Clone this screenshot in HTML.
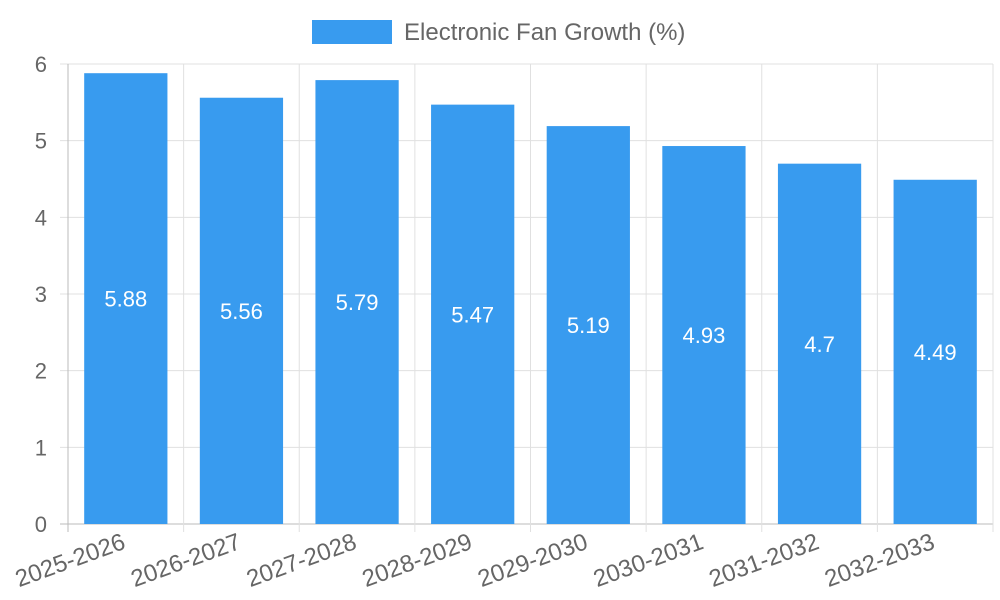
<!DOCTYPE html>
<html><head><meta charset="utf-8"><style>
html,body{margin:0;padding:0;background:#fff;}
svg{display:block;font-family:"Liberation Sans",sans-serif;}
</style></head><body>
<svg id="chart" width="1000" height="600" viewBox="0 0 1000 600" xmlns="http://www.w3.org/2000/svg">
<g>
<rect x="312" y="20" width="80" height="24" fill="#389bef"/>
<text x="404" y="40" font-size="24" fill="#666">Electronic Fan Growth (%)</text>
</g>
<g id="grid"></g>
<g id="bars"></g>
<g id="axes"></g>
</svg>
<script>
const categories = ["2025-2026","2026-2027","2027-2028","2028-2029","2029-2030","2030-2031","2031-2032","2032-2033"];
const growthValues = [5.88,5.56,5.79,5.47,5.19,4.93,4.7,4.49];
const yTicks = [0,1,2,3,4,5,6];

const NS="http://www.w3.org/2000/svg";
const plotLeft=68,plotRight=993,plotTop=64,plotBottom=524,yMax=6;
const catW=(plotRight-plotLeft)/categories.length;
function yScale(v){return plotBottom-(v/yMax)*(plotBottom-plotTop);}
function xScale(i){return plotLeft+catW*i;}
function mk(tag,attrs,parent){const e=document.createElementNS(NS,tag);for(const k in attrs)e.setAttribute(k,attrs[k]);parent.appendChild(e);return e;}
const grid=document.getElementById('grid'),bars=document.getElementById('bars'),axes=document.getElementById('axes');

yTicks.forEach(t=>{
  const y=yScale(t);
  const gl=mk('line',{x1:plotLeft-8,x2:plotRight,y1:y,y2:y,stroke:t===0?'#bbb':'#e0e0e0','stroke-width':1},grid);
  
  
  const tl=mk('text',{x:47,y:y+8,'font-size':22,fill:'#666','text-anchor':'end'},axes);
  tl.textContent=t;
  
  
});
for(let i=0;i<=categories.length;i++){
  const x=xScale(i);
  const vl=mk('line',{x1:x,x2:x,y1:plotTop,y2:plotBottom+8,stroke:i===0?'#bbb':'#e0e0e0','stroke-width':1},grid);
  
  
}
categories.forEach((c,i)=>{
  const v=growthValues[i];
  const bw=catW*0.72;
  const cx=xScale(i)+catW/2;
  const r=mk('rect',{x:cx-bw/2,y:yScale(v),width:bw,height:plotBottom-yScale(v),fill:'#389bef'},bars);
  
  
  const vt=mk('text',{x:cx,y:(yScale(v)+plotBottom)/2+8,'font-size':22,fill:'#fff','text-anchor':'middle'},bars);
  vt.textContent=v;
  
  
  const lx=cx+1,ly=548;
  const xt=mk('text',{x:lx,y:ly,'font-size':24,fill:'#666','text-anchor':'end',transform:'rotate(-20 '+lx+' '+ly+')'},axes);
  xt.textContent=c;
  
  
});
</script>
</body></html>
